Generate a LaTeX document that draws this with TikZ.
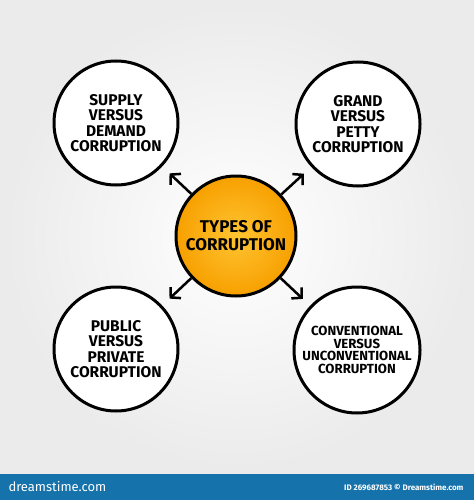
\documentclass[tikz,border=0pt]{standalone}
\usepackage{fontspec}
\setmainfont{Fira Sans}
\usetikzlibrary{arrows.meta}
\definecolor{barblue}{RGB}{22,114,170}
\definecolor{hubin}{RGB}{255,196,50}
\definecolor{hubout}{RGB}{247,160,0}

\begin{document}
\begin{tikzpicture}[x=1pt,y=-1pt,
        bubble/.style={circle,draw,line width=3pt,fill=white,minimum size=124pt,inner sep=0pt,
            align=center,font=\bfseries\fontsize{15.5}{15.5}\selectfont},
        hub/.style={circle,draw,line width=3pt,inner color=hubin,outer color=hubout,minimum size=120pt,
            inner sep=0pt,align=center,font=\bfseries\fontsize{17}{18}\selectfont},
        spoke/.style={line width=2.5pt,-{Straight Barb[length=7pt,width=15pt]},shorten >=10pt}]
    \useasboundingbox (0,0) rectangle (474,500);
    % background and footer
    \shade[inner color=white,outer color=black!8] (0,0) rectangle (474,474);
    \fill[barblue] (0,474) rectangle (474,500);

    \node[hub] (types) at (236,236) {TYPES OF\\CORRUPTION};
    \node[bubble] (supply) at (116,123) {SUPPLY\\VERSUS\\DEMAND\\CORRUPTION};
    \node[bubble] (grand) at (358,124) {GRAND\\VERSUS\\PETTY\\CORRUPTION};
    \node[bubble] (public) at (116,349) {PUBLIC\\VERSUS\\PRIVATE\\CORRUPTION};
    \node[bubble,minimum size=126pt,font=\bfseries\fontsize{13.2}{12.8}\selectfont] (conv) at (357,350)
        {CONVENTIONAL\\VERSUS\\UNCONVENTIONAL\\CORRUPTION};

    \foreach \n in {supply,grand,public,conv} {
        \draw[spoke] (types) -- (\n);
    }

    \node[anchor=west,text=white,font=\fontsize{13}{13}\selectfont] (site) at (5,487) {dreamstime.com};
    \node[anchor=east,text=white,font=\bfseries\fontsize{8}{8}\selectfont] (stockid) at (467,487)
        {ID 269687853 \textcopyright\ Dreamstime.com};
\end{tikzpicture}
\end{document}
